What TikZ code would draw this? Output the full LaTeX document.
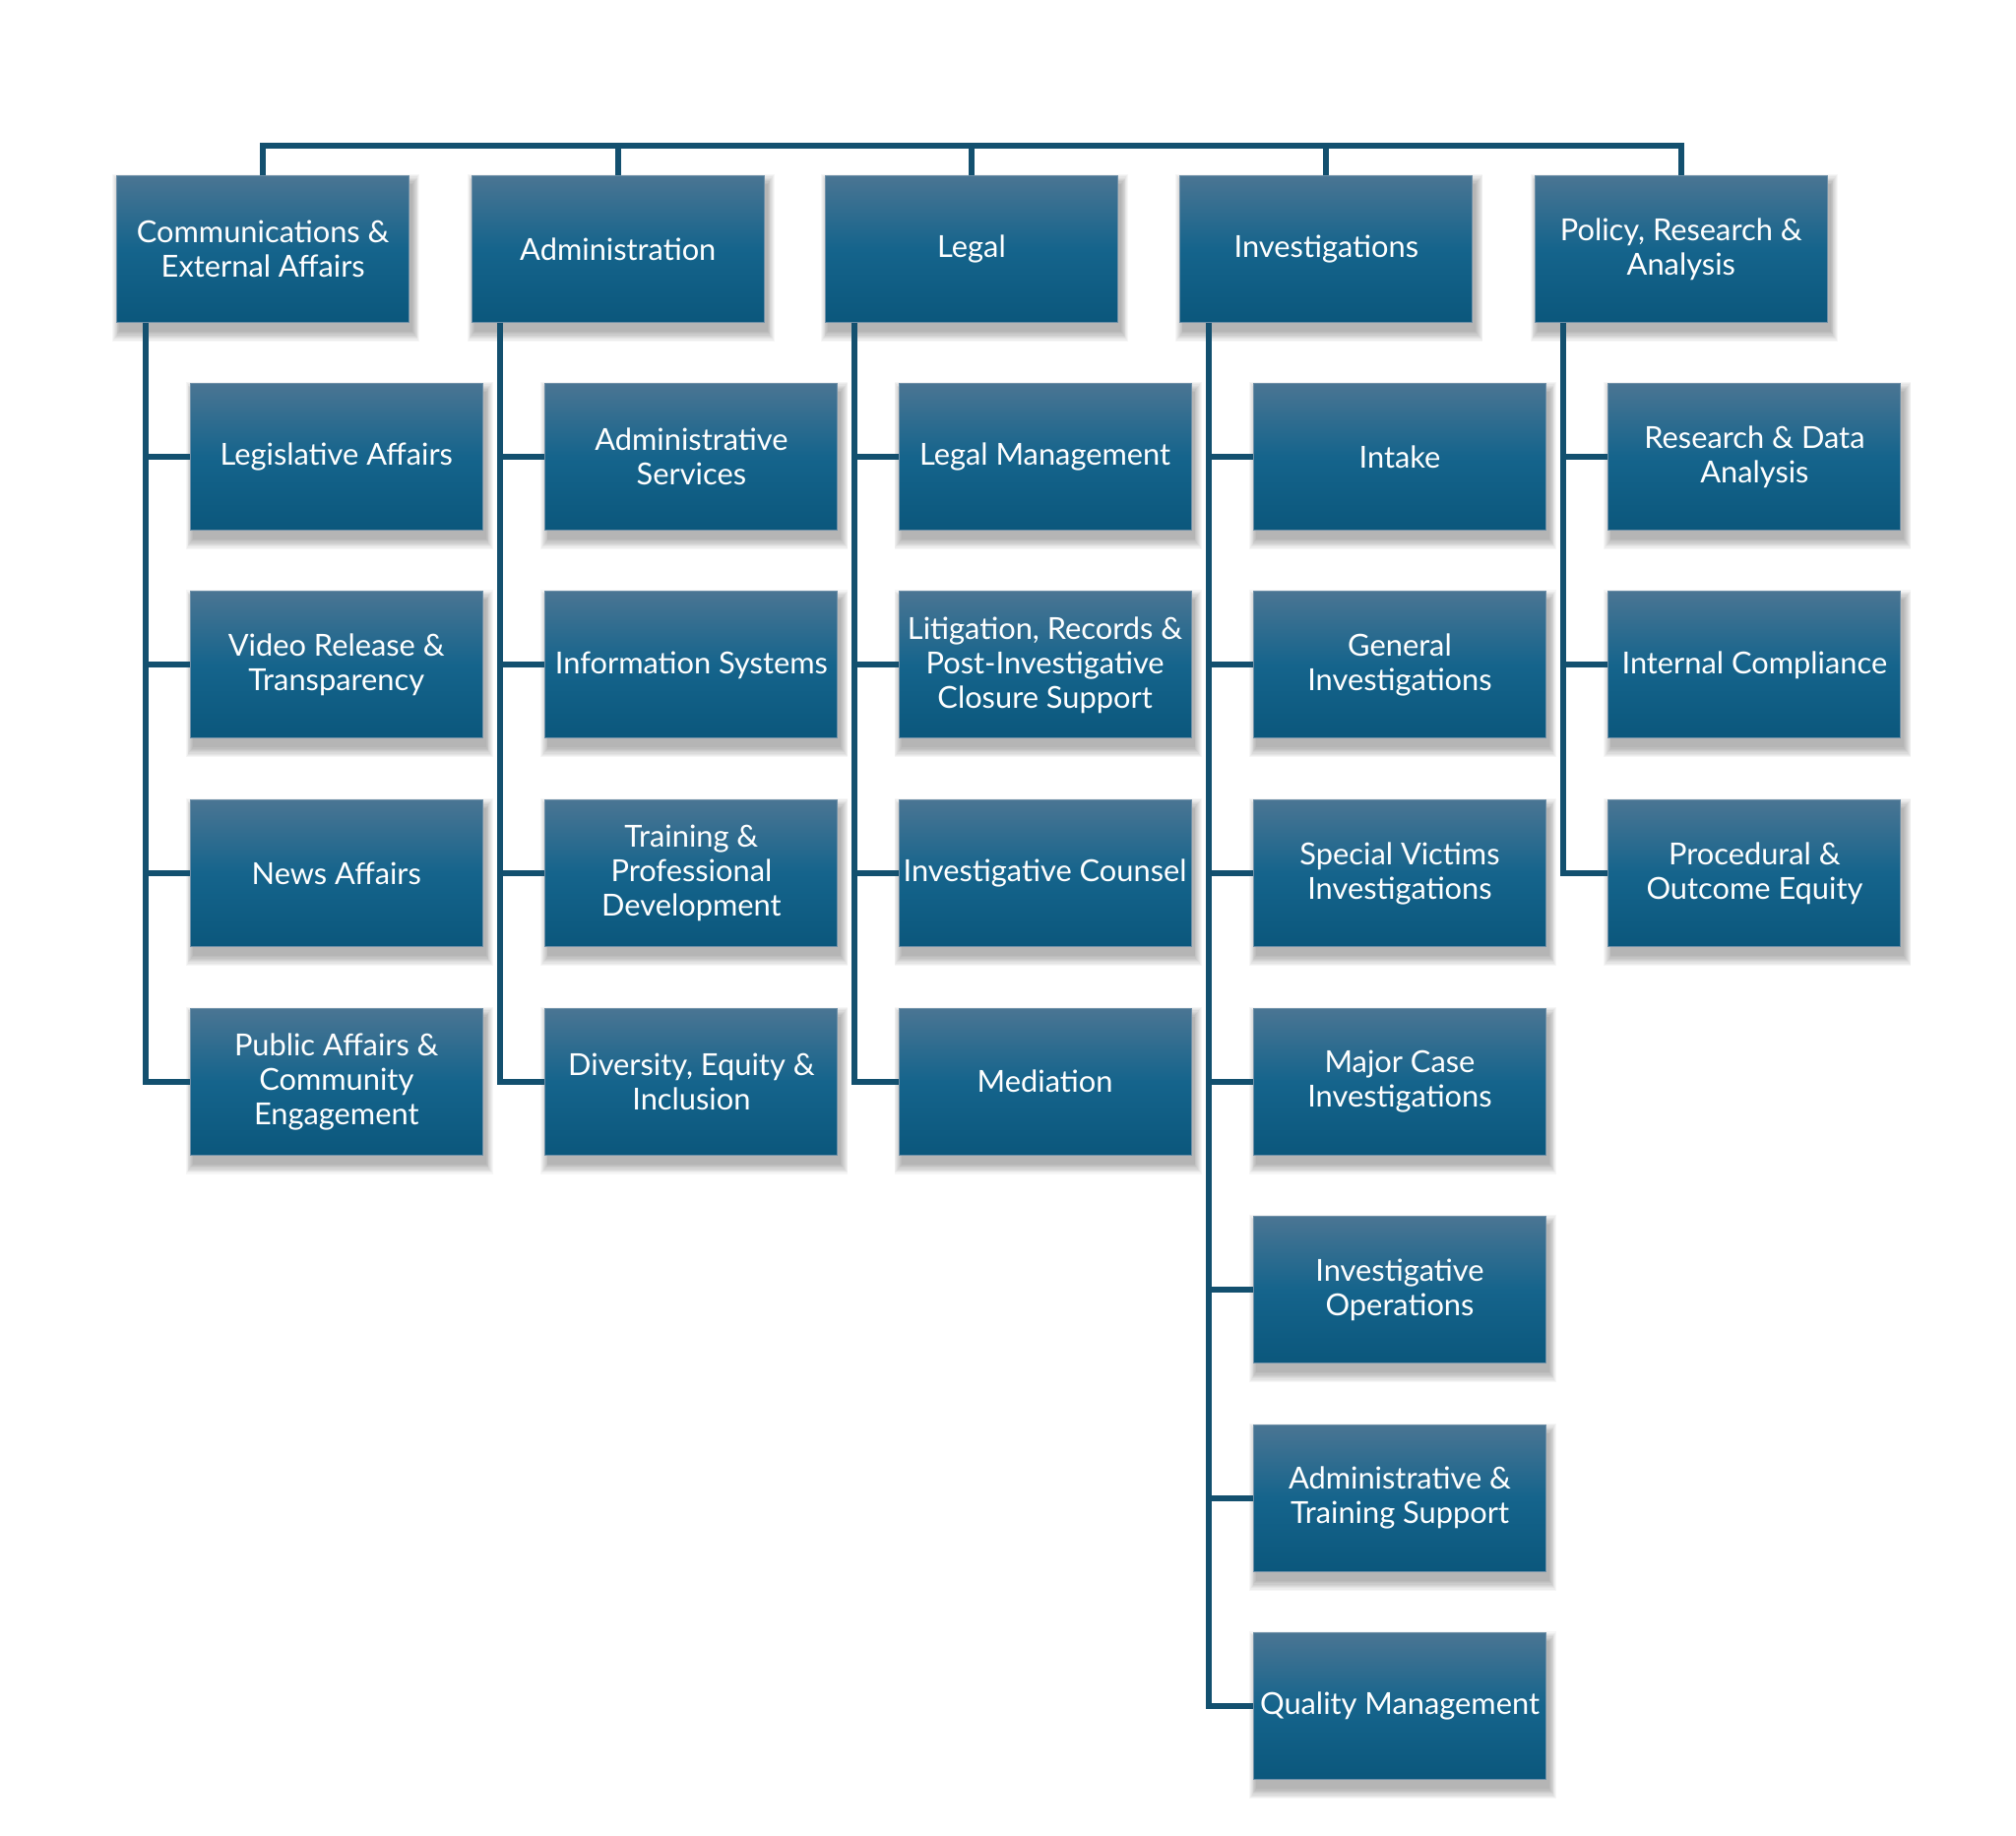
\documentclass[tikz,border=0pt]{standalone}
\usepackage{fontspec}
\setmainfont{Lato}
\usetikzlibrary{calc}
\definecolor{boxtop}{HTML}{4A7593}
\definecolor{boxmid}{HTML}{15648C}
\definecolor{boxbot}{HTML}{0B577C}
\definecolor{boxedge}{HTML}{6F90A8}
\definecolor{lineblue}{HTML}{13506F}
\pgfdeclarelayer{paper}
\pgfdeclarelayer{background}
\pgfsetlayers{paper,background,main}
\tikzset{
  unit/.style={rectangle, minimum width=148.5pt, minimum height=74.5pt, inner sep=1pt,
    top color=boxtop, bottom color=boxbot, middle color=boxmid,
    draw=boxedge, line width=0.5pt, text=white, align=center,
    font=\fontsize{15.4}{17.5}\selectfont},
  conn/.style={draw=lineblue, line width=3pt, line join=miter},
  shade layer/.style={fill=black, fill opacity=0.035, draw=none}
}
\begin{document}
\begin{tikzpicture}[x=0.5pt,y=-0.5pt]
\begin{pgfonlayer}{paper}
\fill[white] (0,0) rectangle (2048,1864);
\end{pgfonlayer}
\useasboundingbox (0,0) rectangle (2048,1864);
% top row
\node[unit] (T1) at (267.2,252.8) {Communications \&\\External Affairs};
\node[unit] (T2) at (627.8,252.8) {Administration};
\node[unit] (T3) at (987.0,252.8) {Legal};
\node[unit] (T4) at (1347.4,252.8) {Investigations};
\node[unit] (T5) at (1707.8,252.8) {Policy, Research \&\\Analysis};
% column 1
\node[unit] (C1a) at (341.8,463.8) {Legislative Affairs};
\node[unit] (C1b) at (341.8,675.4) {Video Release \&\\Transparency};
\node[unit] (C1c) at (341.8,887.0) {News Affairs};
\node[unit] (C1d) at (341.8,1098.6) {Public Affairs \&\\Community\\Engagement};
% column 2
\node[unit] (C2a) at (702.4,463.8) {Administrative\\Services};
\node[unit] (C2b) at (702.4,675.4) {Information Systems};
\node[unit] (C2c) at (702.4,887.0) {Training \&\\Professional\\Development};
\node[unit] (C2d) at (702.4,1098.6) {Diversity, Equity \&\\Inclusion};
% column 3
\node[unit] (C3a) at (1061.6,463.8) {Legal Management};
\node[unit] (C3b) at (1061.6,675.4) {Litigation, Records \&\\Post-Investigative\\Closure Support};
\node[unit] (C3c) at (1061.6,887.0) {Investigative Counsel};
\node[unit] (C3d) at (1061.6,1098.6) {Mediation};
% column 4
\node[unit] (C4a) at (1422.0,463.8) {Intake};
\node[unit] (C4b) at (1422.0,675.4) {General\\Investigations};
\node[unit] (C4c) at (1422.0,887.0) {Special Victims\\Investigations};
\node[unit] (C4d) at (1422.0,1098.6) {Major Case\\Investigations};
\node[unit] (C4e) at (1422.0,1310.2) {Investigative\\Operations};
\node[unit] (C4f) at (1422.0,1521.8) {Administrative \&\\Training Support};
\node[unit] (C4g) at (1422.0,1733.3) {Quality Management};
% column 5
\node[unit] (C5a) at (1782.4,463.8) {Research \& Data\\Analysis};
\node[unit] (C5b) at (1782.4,675.4) {Internal Compliance};
\node[unit] (C5c) at (1782.4,887.0) {Procedural \&\\Outcome Equity};
% soft shadows behind the boxes
\begin{pgfonlayer}{background}
\foreach \n in {T1,T2,T3,T4,T5,C1a,C1b,C1c,C1d,C2a,C2b,C2c,C2d,C3a,C3b,C3c,C3d,C4a,C4b,C4c,C4d,C4e,C4f,C4g,C5a,C5b,C5c}{
  \foreach \r in {0,1.25,...,10}{
    \fill[shade layer] ($(\n.south west)+(3-0.7*\r,9+\r)$) rectangle ($(\n.north east)+(3+0.7*\r,9-\r)$);
  }
}
\end{pgfonlayer}
% connectors: top bar
\coordinate (H) at (0,148);
\draw[conn] (T1.north) -- (T1.north |- H) -- (T5.north |- H) -- (T5.north);
\draw[conn] (T2.north) -- (T2.north |- H);
\draw[conn] (T3.north) -- (T3.north |- H);
\draw[conn] (T4.north) -- (T4.north |- H);
% side spines
\coordinate (V1) at ($(T1.south west)+(29.5,0)$);
\coordinate (V2) at ($(T2.south west)+(29.5,0)$);
\coordinate (V3) at ($(T3.south west)+(29.5,0)$);
\coordinate (V4) at ($(T4.south west)+(29.5,0)$);
\coordinate (V5) at ($(T5.south west)+(29.5,0)$);
\draw[conn] (V1) |- (C1d.west);
\foreach \c in {C1a,C1b,C1c} \draw[conn] (\c.west) -- (\c.west -| V1);
\draw[conn] (V2) |- (C2d.west);
\foreach \c in {C2a,C2b,C2c} \draw[conn] (\c.west) -- (\c.west -| V2);
\draw[conn] (V3) |- (C3d.west);
\foreach \c in {C3a,C3b,C3c} \draw[conn] (\c.west) -- (\c.west -| V3);
\draw[conn] (V4) |- (C4g.west);
\foreach \c in {C4a,C4b,C4c,C4d,C4e,C4f} \draw[conn] (\c.west) -- (\c.west -| V4);
\draw[conn] (V5) |- (C5c.west);
\foreach \c in {C5a,C5b} \draw[conn] (\c.west) -- (\c.west -| V5);
\end{tikzpicture}
\end{document}
